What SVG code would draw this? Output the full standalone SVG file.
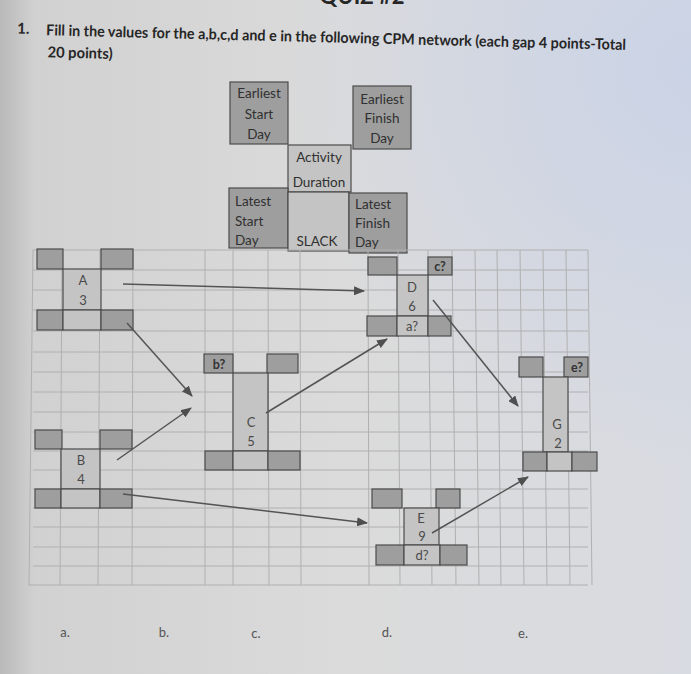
<svg xmlns="http://www.w3.org/2000/svg" width="691" height="674" viewBox="0 0 691 674">
<defs>
<linearGradient id="pg" x1="0" y1="0" x2="1" y2="0">
<stop offset="0" stop-color="#b9b9b9"/>
<stop offset="0.05" stop-color="#d1d1d1"/>
<stop offset="0.5" stop-color="#dbdbdb"/>
<stop offset="1" stop-color="#d8dbe1"/>
</linearGradient>
<radialGradient id="blue" cx="1" cy="0.1" r="0.6">
<stop offset="0" stop-color="#c9d2e6" stop-opacity="0.9"/>
<stop offset="1" stop-color="#c9d2e6" stop-opacity="0"/>
</radialGradient>
<marker id="ah" markerUnits="userSpaceOnUse" markerWidth="11" markerHeight="9" refX="10" refY="4.5" orient="auto">
<path d="M0,0 L11,4.5 L0,9 Z" fill="#4f4f4f"/>
</marker>
<style>
.dk{fill:#9e9e9e;stroke:#4b4b4b;stroke-width:1.2}
.lt{fill:#c4c4c4;stroke:#4b4b4b;stroke-width:1.2}
.g line{stroke:#b0b0b0;stroke-width:1}
.t{font-family:Lato,"Open Sans","Liberation Sans",sans-serif;font-size:13px;fill:#4a4a4a;text-anchor:middle}
.q{font-family:Lato,"Open Sans","Liberation Sans",sans-serif;font-size:12.5px;fill:#333;font-weight:bold;text-anchor:middle}
.lg{font-family:Lato,"Open Sans","Liberation Sans",sans-serif;font-size:13.5px;fill:#303030}
.c{text-anchor:middle}
.conn line{stroke:#545454;stroke-width:1.5;marker-end:url(#ah)}
.ttl{font-family:Lato,"Open Sans","Liberation Sans",sans-serif;font-size:15px;font-weight:bold;fill:#262626}
.ans{font-family:Lato,"Open Sans","Liberation Sans",sans-serif;font-size:13px;fill:#555;text-anchor:middle}
</style>
</defs>
<rect width="691" height="674" fill="url(#pg)"/>
<rect width="691" height="674" fill="url(#blue)"/>

<text x="362" y="4" class="ttl c" style="font-size:22px">QUIZ #2</text>
<g id="title" transform="rotate(1.45 37 36)">
<text x="17" y="34" class="ttl">1.</text>
<text x="46" y="35" class="ttl" textLength="580" lengthAdjust="spacingAndGlyphs">Fill in the values for the a,b,c,d and e in the following CPM network (each gap 4 points-Total</text>
<text x="48" y="57" class="ttl" textLength="65" lengthAdjust="spacingAndGlyphs">20 points)</text>
</g>

<g id="legend">
<rect x="230" y="82" width="58" height="62" class="dk"/>
<rect x="353" y="86" width="58" height="63" class="dk"/>
<rect x="288" y="145" width="63" height="47" class="lt"/>
<rect x="229" y="188" width="59" height="60" class="dk"/>
<rect x="288" y="192" width="61" height="59" class="lt"/>
<rect x="349" y="193" width="58" height="60" class="dk"/>
<text class="lg c" x="259" y="98">Earliest</text>
<text class="lg c" x="259" y="119">Start</text>
<text class="lg c" x="259" y="139">Day</text>
<text class="lg c" x="382" y="104">Earliest</text>
<text class="lg c" x="382" y="123">Finish</text>
<text class="lg c" x="382" y="143">Day</text>
<text class="lg c" x="319" y="162">Activity</text>
<text class="lg c" x="319" y="187">Duration</text>
<text class="lg" x="235" y="206">Latest</text>
<text class="lg" x="235" y="226">Start</text>
<text class="lg" x="235" y="245">Day</text>
<text class="lg c" x="317" y="246">SLACK</text>
<text class="lg" x="355" y="209">Latest</text>
<text class="lg" x="355" y="228">Finish</text>
<text class="lg" x="355" y="247">Day</text>
</g>

<g class="g" id="grid">
<line x1="33" y1="250" x2="588" y2="250"/>
<line x1="33" y1="270" x2="588" y2="270"/>
<line x1="33" y1="290" x2="588" y2="290"/>
<line x1="33" y1="310" x2="588" y2="310"/>
<line x1="33" y1="331" x2="588" y2="331"/>
<line x1="33" y1="352" x2="588" y2="352"/>
<line x1="33" y1="372" x2="588" y2="372"/>
<line x1="33" y1="392" x2="588" y2="392"/>
<line x1="33" y1="412" x2="588" y2="412"/>
<line x1="33" y1="432" x2="588" y2="432"/>
<line x1="33" y1="451" x2="588" y2="451"/>
<line x1="33" y1="470" x2="588" y2="470"/>
<line x1="33" y1="489" x2="588" y2="489"/>
<line x1="33" y1="508" x2="588" y2="508"/>
<line x1="33" y1="527" x2="588" y2="527"/>
<line x1="33" y1="547" x2="588" y2="547"/>
<line x1="33" y1="566" x2="588" y2="566"/>
<line x1="28" y1="585" x2="588" y2="585"/>
<line x1="33" y1="250" x2="29" y2="585"/>
<line x1="62" y1="250" x2="60" y2="585"/>
<line x1="100" y1="250" x2="98" y2="585"/>
<line x1="133" y1="250" x2="132" y2="585"/>
<line x1="205" y1="250" x2="205" y2="585"/>
<line x1="233" y1="250" x2="233" y2="585"/>
<line x1="268" y1="250" x2="269" y2="585"/>
<line x1="300" y1="250" x2="301" y2="585"/>
<line x1="368" y1="250" x2="369" y2="585"/>
<line x1="398" y1="250" x2="400" y2="585"/>
<line x1="428" y1="250" x2="432" y2="585"/>
<line x1="452" y1="250" x2="456" y2="585"/>
<line x1="475" y1="250" x2="479" y2="585"/>
<line x1="497" y1="250" x2="501" y2="585"/>
<line x1="520" y1="250" x2="524" y2="585"/>
<line x1="543" y1="250" x2="547" y2="585"/>
<line x1="566" y1="250" x2="570" y2="585"/>
<line x1="588" y1="250" x2="592" y2="585"/>
</g>

<g id="nodeA">
<rect x="37" y="249" width="26" height="20" class="dk"/>
<rect x="101" y="249" width="32" height="20" class="dk"/>
<rect x="63" y="269" width="38" height="41" class="lt"/>
<rect x="37" y="310" width="26" height="20" class="dk"/>
<rect x="63" y="310" width="38" height="20" class="lt"/>
<rect x="101" y="310" width="32" height="20" class="dk"/>
<text class="t" x="83" y="285">A</text>
<text class="t" x="83" y="305">3</text>
</g>

<g id="nodeB">
<rect x="35" y="430" width="27" height="19" class="dk"/>
<rect x="100" y="430" width="32" height="19" class="dk"/>
<rect x="61" y="449" width="39" height="40" class="lt"/>
<rect x="35" y="489" width="26" height="19" class="dk"/>
<rect x="61" y="489" width="39" height="19" class="lt"/>
<rect x="100" y="489" width="32" height="19" class="dk"/>
<text class="t" x="81" y="465">B</text>
<text class="t" x="81" y="484">4</text>
</g>

<g id="nodeC">
<rect x="204" y="354" width="29" height="19" class="dk"/>
<rect x="267" y="354" width="31" height="19" class="dk"/>
<rect x="233" y="373" width="35" height="78" class="lt"/>
<rect x="205" y="451" width="28" height="19" class="dk"/>
<rect x="233" y="451" width="35" height="19" class="lt"/>
<rect x="268" y="451" width="32" height="19" class="dk"/>
<text class="q" x="219" y="369">b?</text>
<text class="t" x="251" y="427">C</text>
<text class="t" x="251" y="446">5</text>
</g>

<g id="nodeD">
<rect x="368" y="257" width="29" height="18" class="dk"/>
<rect x="428" y="257" width="24" height="18" class="dk"/>
<rect x="397" y="275" width="31" height="41" class="lt"/>
<rect x="367" y="316" width="30" height="20" class="dk"/>
<rect x="397" y="316" width="31" height="20" class="lt"/>
<rect x="428" y="316" width="23" height="20" class="dk"/>
<text class="q" x="440" y="271">c?</text>
<text class="t" x="412" y="292">D</text>
<text class="t" x="412" y="311">6</text>
<text class="t" x="412" y="331">a?</text>
</g>

<g id="nodeE">
<rect x="372" y="489" width="30" height="19" class="dk"/>
<rect x="436" y="489" width="24" height="19" class="dk"/>
<rect x="404" y="508" width="35" height="37" class="lt"/>
<rect x="376" y="545" width="28" height="20" class="dk"/>
<rect x="404" y="545" width="36" height="20" class="lt"/>
<rect x="440" y="545" width="27" height="20" class="dk"/>
<text class="t" x="421" y="523">E</text>
<text class="t" x="422" y="541">9</text>
<text class="t" x="422" y="560">d?</text>
</g>

<g id="nodeG">
<rect x="519" y="357" width="24" height="20" class="dk"/>
<rect x="564" y="357" width="24" height="20" class="dk"/>
<rect x="543" y="377" width="25" height="75" class="lt"/>
<rect x="523" y="452" width="24" height="19" class="dk"/>
<rect x="547" y="452" width="25" height="19" class="lt"/>
<rect x="572" y="452" width="25" height="19" class="dk"/>
<text class="q" x="577" y="372">e?</text>
<text class="t" x="557" y="429">G</text>
<text class="t" x="558" y="448">2</text>
</g>

<g class="conn" id="connectors">
<line x1="123" y1="284" x2="364" y2="291"/>
<line x1="127" y1="323" x2="192" y2="396"/>
<line x1="117" y1="460" x2="191" y2="408"/>
<line x1="266" y1="413" x2="387" y2="339"/>
<line x1="123" y1="494" x2="367" y2="523"/>
<line x1="433" y1="300" x2="518" y2="406"/>
<line x1="432" y1="533" x2="528" y2="477"/>
</g>

<g id="answers">
<text class="ans" x="65" y="637">a.</text>
<text class="ans" x="164" y="637">b.</text>
<text class="ans" x="256" y="638">c.</text>
<text class="ans" x="387" y="637">d.</text>
<text class="ans" x="523" y="638">e.</text>
</g>
</svg>
